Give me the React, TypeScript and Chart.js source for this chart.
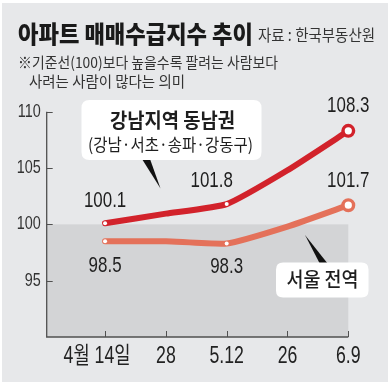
import React, { useEffect, useRef } from "react";
import { Chart, registerables } from "chart.js";

Chart.register(...registerables);

const TITLE = "아파트 매매수급지수 추이";
const SOURCE = "자료 : 한국부동산원";
const NOTE1 = "※기준선(100)보다 높을수록 팔려는 사람보다";
const NOTE2 = "사려는 사람이 많다는 의미";
const XLABELS = ["4월 14일", "28", "5.12", "26", "6.9"];
const GANGNAM = [100.1, 100.95, 101.8, 104.8, 108.3];
const SEOUL = [98.5, 98.5, 98.3, 99.8, 101.7];
const YTICKS = [95, 100, 105, 110];
const BASELINE = 100;
const LABELED = [0, 2, 4];
const GANGNAM_NAME = "강남지역 동남권";
const GANGNAM_SUB = "(강남·서초·송파·강동구)";
const SEOUL_NAME = "서울 전역";

const RED = "#d2222b";
const SALMON = "#e4715a";
const NUM_FONT = "'Liberation Sans', Arial, sans-serif";
const KR_FONT = "'Noto Sans CJK KR', 'Noto Sans', sans-serif";

function txt(
  ctx: CanvasRenderingContext2D,
  s: string,
  x: number,
  y: number,
  font: string,
  color: string,
  align: "left" | "center" | "right",
  opt: { w?: number; sx?: number } = {}
) {
  ctx.save();
  ctx.font = font;
  ctx.fillStyle = color;
  ctx.textBaseline = "middle";
  ctx.textAlign = "left";
  const w = ctx.measureText(s).width;
  const k = opt.w ? opt.w / w : opt.sx ?? 1;
  const left = align === "left" ? x : align === "right" ? x - w * k : x - (w * k) / 2;
  ctx.translate(left, y);
  ctx.scale(k, 1);
  ctx.fillText(s, 0, 0);
  ctx.restore();
}

function roundRect(ctx: CanvasRenderingContext2D, x: number, y: number, w: number, h: number, r: number) {
  ctx.beginPath();
  ctx.moveTo(x + r, y);
  ctx.lineTo(x + w - r, y);
  ctx.quadraticCurveTo(x + w, y, x + w, y + r);
  ctx.lineTo(x + w, y + h - r);
  ctx.quadraticCurveTo(x + w, y + h, x + w - r, y + h);
  ctx.lineTo(x + r, y + h);
  ctx.quadraticCurveTo(x, y + h, x, y + h - r);
  ctx.lineTo(x, y + r);
  ctx.quadraticCurveTo(x, y, x + r, y);
  ctx.closePath();
}

const decor = {
  id: "decor",
  beforeDraw(chart: any) {
    const ctx = chart.ctx as CanvasRenderingContext2D;
    ctx.save();
    ctx.fillStyle = "#ffffff";
    ctx.fillRect(0, 0, chart.width, chart.height);
    ctx.fillStyle = "#e7e8ea";
    ctx.fillRect(2, 3, chart.width - 4, chart.height - 6);
    ctx.restore();
  },
  beforeDatasetsDraw(chart: any) {
    const ctx = chart.ctx as CanvasRenderingContext2D;
    const { left, right, top, bottom } = chart.chartArea;
    const ys = chart.scales.y;
    const xs = chart.scales.x;
    ctx.save();
    const yb = ys.getPixelForValue(BASELINE);
    ctx.fillStyle = "#d3d4d6";
    ctx.fillRect(left, yb, right - left, bottom - yb);
    ctx.strokeStyle = "#505050";
    ctx.lineWidth = 1.3;
    ctx.beginPath();
    ctx.moveTo(left, top);
    ctx.lineTo(left, bottom);
    ctx.lineTo(right, bottom);
    ctx.stroke();
    ctx.lineWidth = 1;
    ctx.beginPath();
    YTICKS.forEach((v) => {
      const p = Math.round(ys.getPixelForValue(v)) + 0.5;
      ctx.moveTo(left, p);
      ctx.lineTo(left + 6, p);
    });
    XLABELS.forEach((_, i) => {
      const p = Math.round(xs.getPixelForValue(i)) + 0.5;
      ctx.moveTo(p, bottom);
      ctx.lineTo(p, bottom - 6);
    });
    ctx.stroke();
    ctx.restore();
  },
  afterDatasetsDraw(chart: any) {
    const ctx = chart.ctx as CanvasRenderingContext2D;
    const { left, bottom } = chart.chartArea;
    const ys = chart.scales.y;
    const xs = chart.scales.x;

    txt(ctx, TITLE, 18, 33.5, `900 24px ${KR_FONT}`, "#1a1a1a", "left", { w: 235 });
    txt(ctx, SOURCE, 258, 35, `400 16px ${KR_FONT}`, "#333", "left", { w: 117 });
    txt(ctx, NOTE1, 18, 62, `400 15px ${KR_FONT}`, "#333", "left", { w: 260 });
    txt(ctx, NOTE2, 29, 81.5, `400 15px ${KR_FONT}`, "#333", "left", { w: 156 });

    YTICKS.forEach((v) => {
      txt(ctx, String(v), left - 6, ys.getPixelForValue(v), `400 18px ${NUM_FONT}`, "#333", "right", { sx: 0.8 });
    });
    XLABELS.forEach((s, i) => {
      const shift = i === 0 ? -8 : 0;
      txt(ctx, s, xs.getPixelForValue(i) + shift, bottom + 19.5, `400 23px ${NUM_FONT}, ${KR_FONT}`, "#222", "center", { sx: 0.77 });
    });

    const gOff: Record<number, [number, number]> = { 0: [0, -22], 2: [-15, -23], 4: [0, -25] };
    const sOff: Record<number, [number, number]> = { 0: [0, 25], 2: [0, 23], 4: [0, -24] };
    LABELED.forEach((i) => {
      const gx = xs.getPixelForValue(i);
      const gy = ys.getPixelForValue(GANGNAM[i]);
      txt(ctx, GANGNAM[i].toFixed(1), gx + gOff[i][0], gy + gOff[i][1], `400 22px ${NUM_FONT}`, "#1e1e1e", "center", { sx: 0.77 });
      const sy = ys.getPixelForValue(SEOUL[i]);
      txt(ctx, SEOUL[i].toFixed(1), gx + sOff[i][0], sy + sOff[i][1], `400 22px ${NUM_FONT}`, "#1e1e1e", "center", { sx: 0.77 });
    });

    ctx.save();
    ctx.fillStyle = "#111";
    ctx.beginPath();
    ctx.moveTo(142, 159);
    ctx.lineTo(150, 159);
    ctx.lineTo(160.5, 188.5);
    ctx.closePath();
    ctx.fill();
    ctx.fillStyle = "#ffffff";
    roundRect(ctx, 81.5, 100, 180, 60, 8);
    ctx.fill();
    ctx.restore();
    txt(ctx, GANGNAM_NAME, 172.5, 120.5, `700 20px ${KR_FONT}`, "#1e1e1e", "center", { w: 125 });
    txt(ctx, GANGNAM_SUB, 170.5, 144.5, `400 17px ${KR_FONT}`, "#1e1e1e", "center", { w: 165 });

    ctx.save();
    ctx.fillStyle = "#111";
    ctx.beginPath();
    ctx.moveTo(305, 235);
    ctx.lineTo(320, 264);
    ctx.lineTo(328, 264);
    ctx.closePath();
    ctx.fill();
    ctx.fillStyle = "#ffffff";
    roundRect(ctx, 276, 262.5, 92.5, 35, 7);
    ctx.fill();
    ctx.restore();
    txt(ctx, SEOUL_NAME, 322.5, 279.5, `500 20px ${KR_FONT}`, "#1e1e1e", "center", { w: 72 });
  },
};

function series(values: number[], color: string) {
  return {
    data: values.map((y, i) => ({ x: i, y })),
    borderColor: color,
    borderWidth: 6,
    borderCapStyle: "round" as const,
    borderJoinStyle: "round" as const,
    tension: 0.15,
    clip: false as const,
    pointRadius: values.map((_, i) => (i === values.length - 1 ? 5.3 : LABELED.includes(i) ? 2 : 0)),
    pointBorderWidth: values.map((_, i) => (i === values.length - 1 ? 3.4 : 0)),
    pointBackgroundColor: "#ffffff",
    pointBorderColor: color,
    pointHoverRadius: 0,
  };
}

export default function App() {
  const ref = useRef<HTMLCanvasElement | null>(null);
  useEffect(() => {
    document.body.style.margin = "0";
    if (!ref.current) return;
    const chart = new Chart(ref.current, {
      type: "line",
      data: {
        datasets: [series(SEOUL, SALMON), series(GANGNAM, RED)] as any,
      },
      options: {
        animation: false,
        responsive: false,
        devicePixelRatio: 1,
        events: [],
        layout: { padding: { top: 111.7, right: 41.7, left: 0, bottom: 0 } },
        plugins: { legend: { display: false }, tooltip: { enabled: false } },
        scales: {
          x: {
            type: "linear",
            min: -0.96,
            max: 4,
            grid: { display: false },
            border: { display: false },
            ticks: { display: false },
            afterBuildTicks: (s: any) => {
              s.ticks = XLABELS.map((_, i) => ({ value: i }));
            },
            afterFit: (s: any) => {
              s.height = 48;
            },
          },
          y: {
            min: 90,
            max: 110,
            grid: { display: false },
            border: { display: false },
            ticks: { display: false, stepSize: 5 },
            afterFit: (s: any) => {
              s.width = 46.7;
            },
          },
        },
      } as any,
      plugins: [decor],
    });
    return () => chart.destroy();
  }, []);
  return (
    <div style={{ position: "absolute", left: 0, top: 0, width: 390, height: 385 }}>
      <canvas ref={ref} width={390} height={385} style={{ width: 390, height: 385, display: "block" }} />
    </div>
  );
}
